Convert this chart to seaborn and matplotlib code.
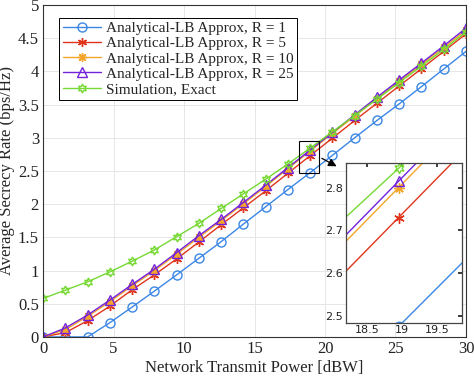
import numpy as np
import pandas as pd
import matplotlib
matplotlib.use("Agg")
import matplotlib.pyplot as plt
import seaborn as sns

# transmit power grid (dBW), 20 points from 0 to 30
power = np.linspace(0, 30, 20)

rate_r1 = [0.0, 0.0, 0.0, 0.215, 0.45, 0.69, 0.935, 1.185, 1.435, 1.70, 1.96,
           2.22, 2.475, 2.735, 3.0, 3.26, 3.51, 3.77, 4.035, 4.30]
rate_r5 = [0.0, 0.065, 0.245, 0.465, 0.71, 0.935, 1.175, 1.43, 1.69, 1.945, 2.20,
           2.465, 2.73, 2.995, 3.26, 3.52, 3.78, 4.04, 4.30, 4.565]
rate_r10 = [0.0, 0.11, 0.31, 0.53, 0.77, 1.0, 1.245, 1.50, 1.75, 2.005, 2.265,
            2.535, 2.80, 3.065, 3.325, 3.59, 3.85, 4.105, 4.36, 4.62]
rate_r25 = [0.0, 0.135, 0.33, 0.555, 0.79, 1.02, 1.27, 1.525, 1.77, 2.025, 2.285,
            2.55, 2.815, 3.08, 3.345, 3.61, 3.87, 4.125, 4.385, 4.65]
rate_sim = [0.58, 0.705, 0.83, 0.98, 1.14, 1.31, 1.51, 1.71, 1.935, 2.155, 2.375,
            2.605, 2.845, 3.09, 3.335, 3.58, 3.83, 4.08, 4.33, 4.595]

labels = ["Analytical-LB Approx, R = 1", "Analytical-LB Approx, R = 5",
          "Analytical-LB Approx, R = 10", "Analytical-LB Approx, R = 25",
          "Simulation, Exact"]
series = [rate_r1, rate_r5, rate_r10, rate_r25, rate_sim]
colors = ["#3b87e6", "#e0351c", "#f4a52a", "#7322dc", "#76d933"]
markers = ["o", (6, 2, 0), (8, 2, 0), "^", (6, 1, 0)]
fills = ["none", "full", "full", "none", "none"]

df = pd.concat([pd.DataFrame({"power": power, "rate": s, "label": lab})
                for s, lab in zip(series, labels)], ignore_index=True)

sns.set_theme(style="whitegrid")
plt.rcParams["font.family"] = ["Liberation Serif", "DejaVu Serif"]
plt.rcParams["mathtext.fontset"] = "stix"

fig = plt.figure(figsize=(4.74, 3.82), dpi=100)
ax = fig.add_axes([0.091, 0.118, 0.892, 0.869])

for lab, col, mk, fs in zip(labels, colors, markers, fills):
    sub = df[df["label"] == lab]
    sns.lineplot(data=sub, x="power", y="rate", ax=ax, color=col, marker=mk,
                 markersize=6.5, markeredgecolor=col, linewidth=1.0,
                 fillstyle=fs, markeredgewidth=1.0, label=lab)

ax.set_xlim(0, 30)
ax.set_ylim(0, 5)
ax.set_xticks(np.arange(0, 31, 5))
ax.set_yticks(np.arange(0, 5.01, 0.5))
ax.set_yticklabels(["0", "0.5", "1", "1.5", "2", "2.5", "3", "3.5", "4", "4.5", "5"])
ax.set_xlabel("Network Transmit Power [dBW]", fontsize=12, labelpad=2)
ax.set_ylabel("Average Secrecy Rate (bps/Hz)", fontsize=12, labelpad=2)
ax.tick_params(labelsize=12, direction="in", length=3, pad=3, colors="#222222")
ax.grid(color="#e6e6e6", linewidth=0.7)
ax.set_facecolor("white")
for sp in ax.spines.values():
    sp.set_color("#333333")
    sp.set_linewidth(0.8)

leg = ax.legend(loc="upper left", bbox_to_anchor=(0.02, 0.985), fontsize=11,
                frameon=True, fancybox=False, edgecolor="black", framealpha=1,
                handlelength=2.5, borderpad=0.25, labelspacing=0.1,
                handletextpad=0.3)
leg.get_frame().set_linewidth(0.7)

# zoom rectangle and arrow
ax.add_patch(plt.Rectangle((18.15, 2.47), 1.45, 0.48, fill=False,
                           edgecolor="black", linewidth=0.8, zorder=5))
ax.annotate("", xy=(21.0, 2.55), xytext=(19.6, 2.71),
            arrowprops=dict(arrowstyle="-|>", color="black", lw=0.9,
                            mutation_scale=12), zorder=6)

# inset
axin = fig.add_axes([346 / 474, 1 - 322.7 / 382, 116 / 474, 159.4 / 382])
for lab, col, mk, fs in zip(labels, colors, markers, fills):
    sub = df[df["label"] == lab]
    sns.lineplot(data=sub, x="power", y="rate", ax=axin, color=col, marker=mk,
                 markersize=7.5, markeredgecolor=col, linewidth=1.0,
                 fillstyle=fs, markeredgewidth=1.0, legend=False)
axin.set_xlim(18.2, 19.85)
axin.set_ylim(2.484, 2.857)
axin.set_xticks([18.5, 19, 19.5])
axin.set_xticklabels(["18.5", "19", "19.5"])
axin.set_yticks([2.5, 2.6, 2.7, 2.8])
axin.set_xlabel("")
axin.set_ylabel("")
axin.grid(False)
axin.set_facecolor("white")
axin.tick_params(labelsize=8, direction="in", length=3, pad=2,
                 colors="#222222", top=True, right=True)
for t in axin.get_xticklabels() + axin.get_yticklabels():
    t.set_family(["DejaVu Sans"])
for sp in axin.spines.values():
    sp.set_color("#444444")
    sp.set_linewidth(0.9)

fig.savefig("out.png", dpi=100)
